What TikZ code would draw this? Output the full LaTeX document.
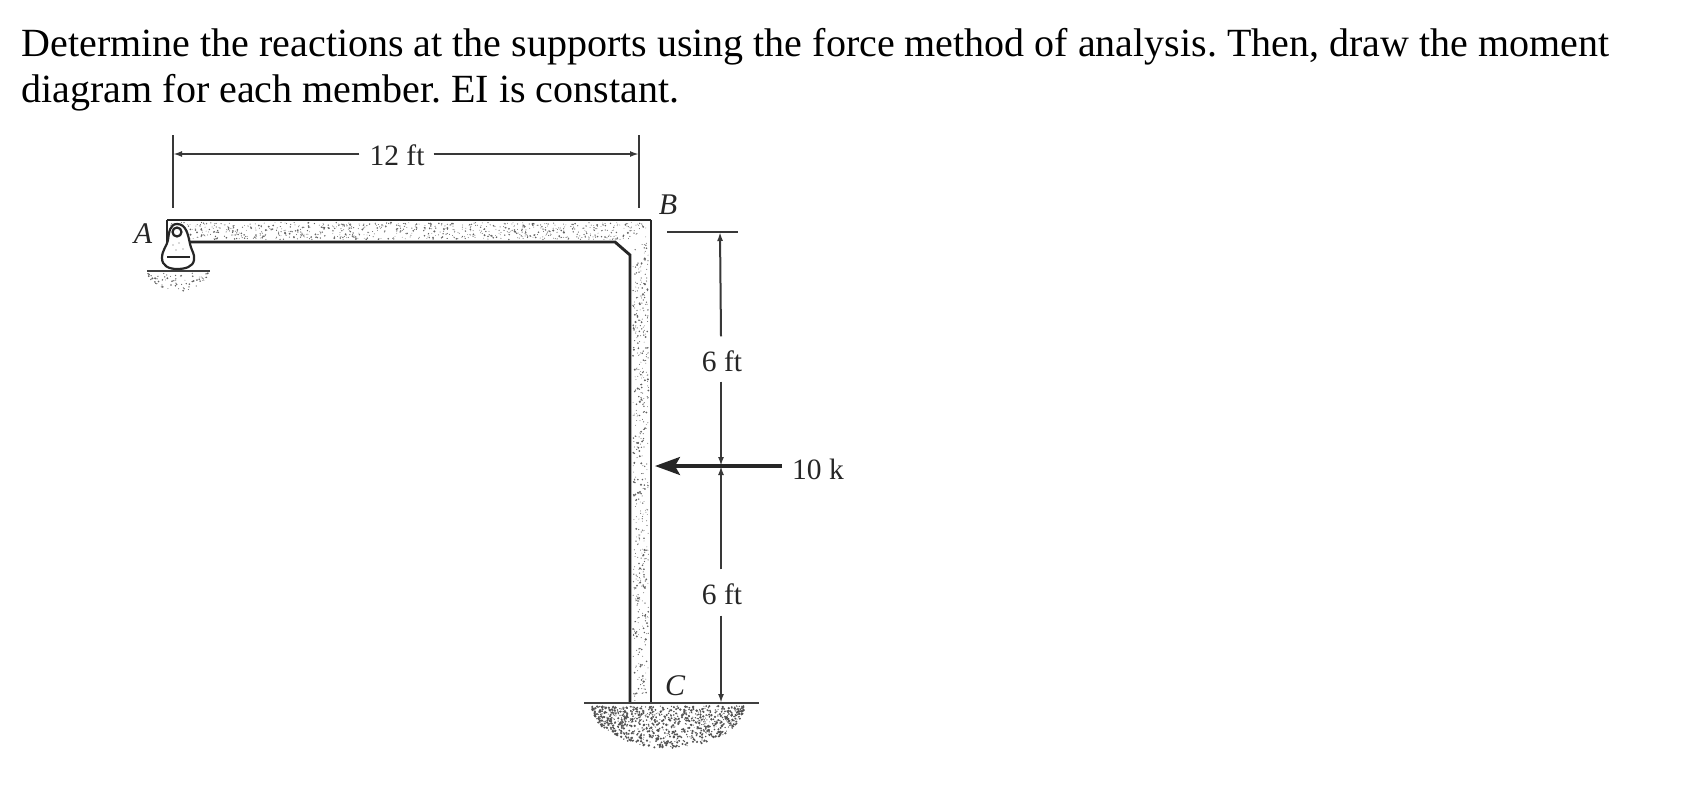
\documentclass[tikz,border=0pt]{standalone}
\usepackage{fontspec}
\usetikzlibrary{arrows.meta}
\setmainfont{Liberation Serif}
\begin{document}
\begin{tikzpicture}[x=1pt,y=-1pt,
  heading/.style={anchor=north west,inner sep=0pt,align=left,font=\fontsize{40}{46.4}\selectfont\frenchspacing},
  dimtext/.style={inner sep=0pt,text=black!85,font=\fontsize{29.5}{32}\selectfont},
  pointname/.style={inner sep=0pt,text=black!85,font=\fontsize{30}{32}\selectfont\itshape},
  memberline/.style={line width=2.9pt,draw=black!85},
  dimline/.style={line width=2pt,draw=black!78},
  tickline/.style={line width=2.4pt,draw=black!78},
  groundline/.style={line width=2pt,draw=black!75},
  forceline/.style={line width=3.2pt,draw=black!85},
  supportline/.style={line width=2.2pt,draw=black!85},
  speck/.style={fill=black!62},
  gndspeck/.style={fill=black!68}]
\useasboundingbox (0,0) rectangle (1689,808);

\node[heading] (title) at (21.5,28) {Determine the reactions at the supports using the force method of analysis. Then, draw the moment\\diagram for each member. EI is constant.};

% stippling of the members and the ground
\pgfmathsetseed{2718}
\foreach \i in {1,...,850}{
  \pgfmathsetmacro{\px}{170+rnd*478}
  \pgfmathsetmacro{\py}{222.5+rnd*17}
  \pgfmathsetmacro{\pr}{0.4+rnd*rnd*0.8}
  \fill[speck] (\px,\py) circle[radius=\pr];
}
\foreach \i in {1,...,520}{
  \pgfmathsetmacro{\px}{633+rnd*15.5}
  \pgfmathsetmacro{\py}{243+rnd*458}
  \pgfmathsetmacro{\pr}{0.4+rnd*rnd*0.9}
  \fill[speck] (\px,\py) circle[radius=\pr];
}
\foreach \i in {1,...,950}{
  \pgfmathsetmacro{\pu}{2*rnd-1}
  \pgfmathsetmacro{\pv}{rnd}
  \pgfmathsetmacro{\px}{668+\pu*76}
  \pgfmathsetmacro{\py}{706+\pv*42*sqrt(1-\pu*\pu)}
  \pgfmathsetmacro{\pr}{0.4+rnd*0.95}
  \fill[gndspeck] (\px,\py) circle[radius=\pr];
}
\foreach \i in {1,...,70}{
  \pgfmathsetmacro{\pu}{2*rnd-1}
  \pgfmathsetmacro{\px}{178+\pu*30}
  \pgfmathsetmacro{\py}{273+rnd*18*sqrt(1-\pu*\pu)}
  \pgfmathsetmacro{\pr}{0.4+rnd*0.6}
  \fill[speck] (\px,\py) circle[radius=\pr];
}

% frame
\coordinate (beamTL) at (167,219.5);
\coordinate (corner) at (651,219.5);
\coordinate (baseR) at (651,703);
\coordinate (baseL) at (630,703);
\coordinate (chamA) at (630,255);
\coordinate (chamB) at (615,242);
\coordinate (beamBL) at (167,242);
\draw[memberline,line width=2pt] (beamTL) -- (corner);
\draw[memberline] (corner) -- (baseR);
\draw[memberline] (baseL) -- (chamA) -- (chamB) -- (beamBL);
\draw[memberline,line width=1.6pt] (beamTL) -- (beamBL);

% ground at C
\coordinate (gndL) at (584,703);
\coordinate (gndR) at (759,703);
\draw[groundline] (gndL) -- (gndR);

% rocker at A
\coordinate (gndAL) at (147,271);
\coordinate (gndAR) at (210,271);
\draw[groundline,line width=2.4pt] (gndAL) -- (gndAR);
\filldraw[supportline,fill=white] (177,224) .. controls (186,224) and (188,234) .. (190,244)
  .. controls (192,252) and (195,254) .. (194,260)
  .. controls (193,267) and (185,269) .. (177,269)
  .. controls (169,269) and (162,266) .. (162,258)
  .. controls (162,250) and (167,246) .. (168,240)
  .. controls (169,232) and (170,224) .. (177,224) -- cycle;
\draw[supportline] (177,232) circle[radius=4.5];
\coordinate (rockL) at (167,257);
\coordinate (rockR) at (190,257);
\draw[supportline,line width=1.5pt] (rockL) -- (rockR);
\foreach \dx/\dy in {173/245,179/243,176/250,183/249}{\fill[speck] (\dx,\dy) circle[radius=0.7];}

% 12 ft dimension
\coordinate (tickAt) at (173,135);
\coordinate (tickAb) at (173,208);
\coordinate (tickBt) at (639,135);
\coordinate (tickBb) at (639,208);
\coordinate (dimA) at (173,154);
\coordinate (dimB) at (639,154);
\node[dimtext] (twelve) at (397,155) {12 ft};
\draw[tickline] (tickAt) -- (tickAb);
\draw[tickline] (tickBt) -- (tickBb);
\draw[dimline,-{Latex[length=9pt,width=6pt]}] (twelve.west) ++(-10,-1) -- (dimA);
\draw[dimline,-{Latex[length=9pt,width=6pt]}] (twelve.east) ++(9,-1) -- (dimB);

% 6 ft dimensions
\coordinate (tickTopL) at (667,232);
\coordinate (tickTopR) at (738,232);
\coordinate (dimTop) at (720,232);
\coordinate (dimMid) at (721,466);
\coordinate (dimBot) at (721,703);
\draw[dimline] (tickTopL) -- (tickTopR);
\node[dimtext] (sixa) at (722,361) {6 ft};
\node[dimtext] (sixb) at (722,594) {6 ft};
\draw[dimline,-{Latex[length=9pt,width=6pt]}] (sixa.north) ++(-1,-14) -- (dimTop);
\draw[dimline,-{Latex[length=9pt,width=6pt]}] (sixa.south) ++(-1,10) -- (dimMid);
\draw[dimline,-{Latex[length=9pt,width=6pt]}] (sixb.north) ++(-1,-14) -- (dimMid);
\draw[dimline,-{Latex[length=9pt,width=6pt]}] (sixb.south) ++(-1,11) -- (dimBot);

% force
\coordinate (forceTip) at (655,466);
\node[dimtext,anchor=west] (force) at (792,469) {10 k};
\draw[forceline,-{Stealth[length=25pt,width=18pt,inset=5pt]}] (force.west) ++(-10,-3) -- (forceTip);

% point names
\node[pointname] (A) at (143,234) {A};
\node[pointname] (B) at (668,205) {B};
\node[pointname] (C) at (675,686) {C};
\end{tikzpicture}
\end{document}
